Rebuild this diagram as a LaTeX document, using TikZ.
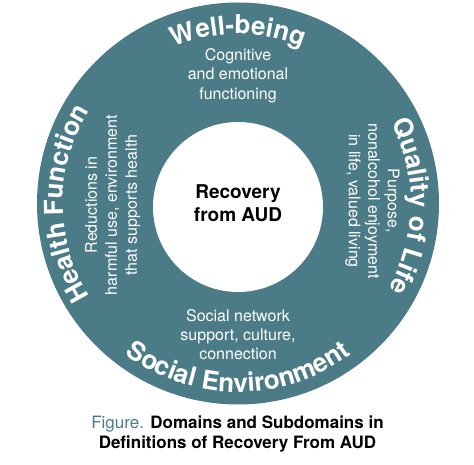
\documentclass[tikz,border=0pt]{standalone}
\usepackage{fontspec}
\setmainfont{TeX Gyre Heros}
\usetikzlibrary{decorations.text}
\definecolor{ring}{HTML}{4B7B86}
\newcommand\ringtitlefont{\fontsize{26}{26}\selectfont\bfseries}
\begin{document}
\begin{tikzpicture}[x=1pt,y=1pt,
  subtext/.style={text=white, align=center, font=\fontsize{16}{19.5}\selectfont, inner sep=0pt},
  arctext/.style={decorate, decoration={text along path, text align=center, text color=white, text={#1}}}]
\useasboundingbox (0,0) rectangle (474,465);
\coordinate (C) at (238,261.5);
\node[circle, fill=ring, minimum size=402pt, inner sep=0pt] (ringdisc) at (C) {};
\node[circle, fill=white, minimum size=170pt, inner sep=0pt] (hub) at (238,258) {};
\node[align=center, font=\fontsize{19}{23}\selectfont\bfseries, inner sep=0pt] (core) at (238,261.4) {Recovery\\from AUD};
% curved domain titles
\path[arctext={|\ringtitlefont|Well-being}]
  ([shift={(150:169.5)}]C) arc[start angle=150, end angle=30, radius=169.5];
\path[arctext={|\ringtitlefont|Quality of Life}]
  ([shift={(59:173)}]C) arc[start angle=59, end angle=-61, radius=173];
\path[arctext={|\ringtitlefont|Health Function}]
  ([shift={(240:175)}]C) arc[start angle=240, end angle=120, radius=175];
\path[arctext={|\ringtitlefont|Social Environment}]
  ([shift={(210:188.5)}]C) arc[start angle=210, end angle=330, radius=188.5];
% subdomains
\node[subtext] (wb) at (238,389.5) {Cognitive\\and emotional\\functioning};
\node[subtext, font=\fontsize{16}{19}\selectfont] (se) at (238,129.9) {Social network\\support, culture,\\connection};
\node[subtext, font=\fontsize{16}{20}\selectfont, rotate=90] (hf) at (112.9,260) {Reductions in\\harmful use, environment\\that supports health};
\node[subtext, rotate=-90] (ql) at (372.5,264) {Purpose,\\nonalcohol enjoyment\\in life, valued living};
% caption
\node[align=center, font=\fontsize{17}{20}\selectfont, inner sep=0pt] (cap) at (237.5,31.4)
  {\textcolor{ring}{Figure.} \textbf{Domains and Subdomains in}\\\textbf{Definitions of Recovery From AUD}};
\end{tikzpicture}
\end{document}
